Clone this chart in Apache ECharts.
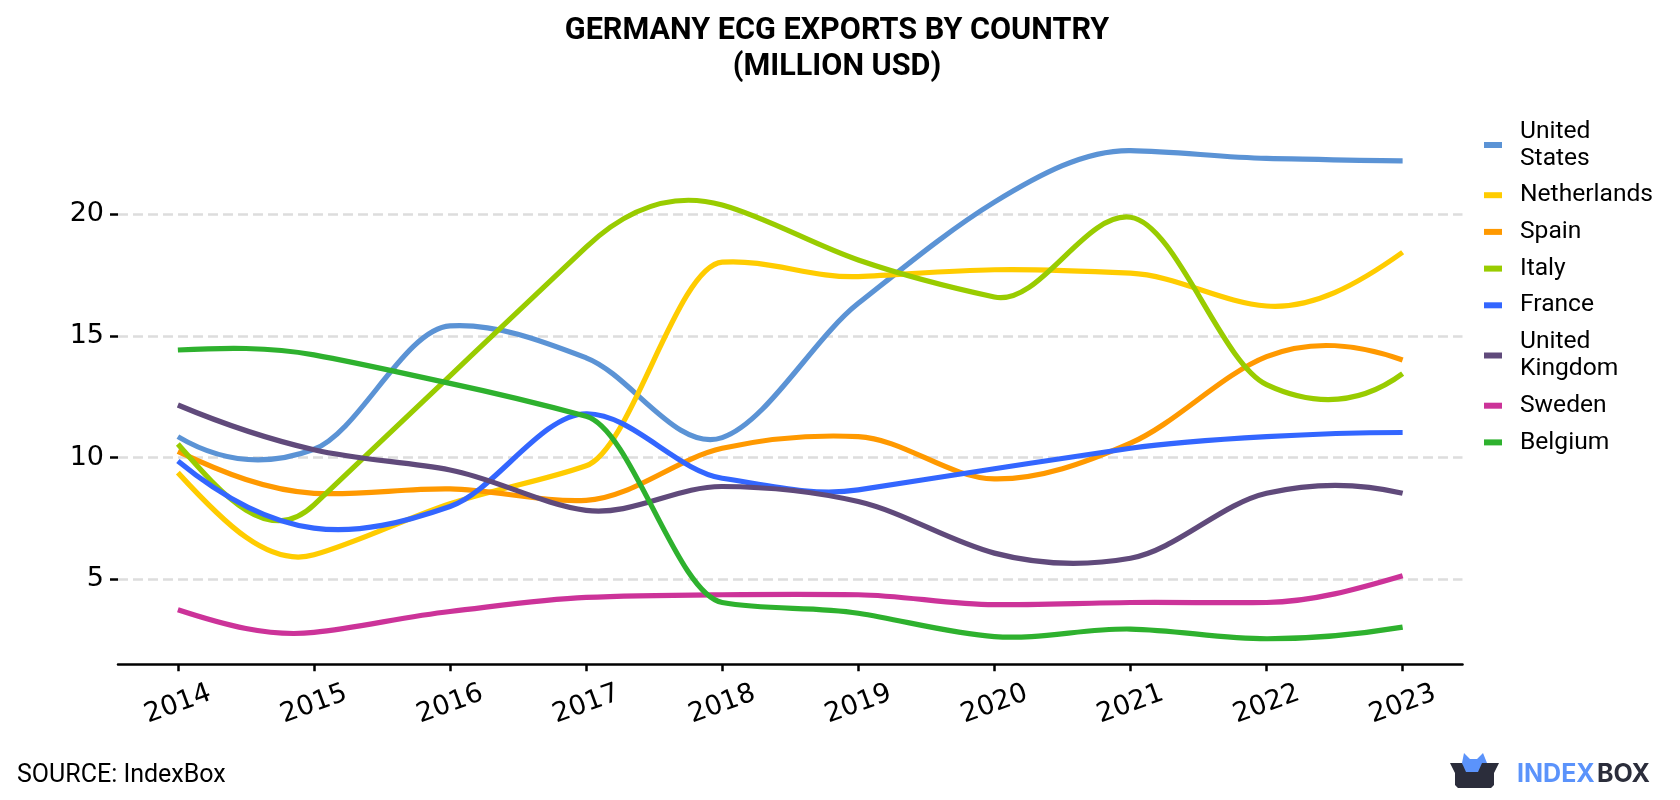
<!DOCTYPE html>
<html>
<head>
<meta charset="utf-8">
<style>html,body{margin:0;padding:0;background:#fff}#chart{width:1680px;height:800px}</style>
<script src="https://cdn.jsdelivr.net/npm/echarts@6/dist/echarts.min.js"></script>
</head>
<body>
<div id="chart"></div>
<script>
// Germany ECG exports, million USD per year.
const years = [2014, 2015, 2016, 2017, 2018, 2019, 2020, 2021, 2022, 2023];
const tickValues = [5, 10, 15, 20];

const unitedStates = [10.86, 10.34, 15.41, 14.1, 10.82, 16.34, 20.5, 22.62, 22.3, 22.2];
const netherlands = [9.38, 6.0, 8.1, 9.66, 18.03, 17.44, 17.72, 17.58, 16.23, 18.44];
const spain = [10.25, 8.53, 8.71, 8.24, 10.38, 10.86, 9.12, 10.59, 14.15, 14.01];
const italy = [10.56, 8.05, 13.36, 18.65, 20.38, 18.12, 16.6, 19.88, 13.0, 13.45];
const france = [9.86, 7.1, 7.99, 11.8, 9.15, 8.67, 9.54, 10.38, 10.86, 11.03];
const unitedKingdom = [12.16, 10.32, 9.49, 7.83, 8.81, 8.19, 6.07, 5.86, 8.53, 8.53];
const sweden = [3.74, 2.81, 3.67, 4.25, 4.36, 4.36, 3.95, 4.04, 4.04, 5.14];
const belgium = [14.42, 14.22, 13.05, 11.7, 4.04, 3.6, 2.64, 2.95, 2.55, 3.03];

const seriesTable = [
  ['United States', unitedStates, '#5b93d5'],
  ['Netherlands', netherlands, '#ffcc00'],
  ['Spain', spain, '#ff9900'],
  ['Italy', italy, '#99cc00'],
  ['France', france, '#3366ff'],
  ['United Kingdom', unitedKingdom, '#604a7b'],
  ['Sweden', sweden, '#cc3399'],
  ['Belgium', belgium, '#2eb12e']
];

const wrappedNames = { 'United States': 'United\nStates', 'United Kingdom': 'United\nKingdom' };

// Akima tangents for evenly spaced yearly values.
function akimaTangents(y) {
  const n = y.length;
  const m = new Array(n + 3);
  for (let i = 0; i < n - 1; i++) m[i + 2] = y[i + 1] - y[i];
  m[1] = 2 * m[2] - m[3];
  m[0] = 2 * m[1] - m[2];
  m[n + 1] = 2 * m[n] - m[n - 1];
  m[n + 2] = 2 * m[n + 1] - m[n];
  return y.map((_, i) => {
    const f1 = Math.abs(m[i + 3] - m[i + 2]);
    const f2 = Math.abs(m[i + 1] - m[i]);
    const sum = f1 + f2;
    return sum < 1e-9 ? (m[i + 1] + m[i + 2]) / 2 : (f1 * m[i + 1] + f2 * m[i + 2]) / sum;
  });
}

// One stroked path of cubic segments running through the yearly points.
echarts.graphic.registerShape('yearlyCurve', echarts.graphic.extendShape({
  shape: { start: null, segments: null },
  buildPath(ctx, shape) {
    ctx.moveTo(shape.start[0], shape.start[1]);
    shape.segments.forEach(s => ctx.bezierCurveTo(s[0], s[1], s[2], s[3], s[4], s[5]));
  }
}));

function curveRenderer(values, color) {
  const tangents = akimaTangents(values);
  return (params, api) => {
    if (params.dataIndex !== 0) return null;
    const segments = [];
    for (let i = 0; i < values.length - 1; i++) {
      const c1 = api.coord([years[i] + 1 / 3, values[i] + tangents[i] / 3]);
      const c2 = api.coord([years[i + 1] - 1 / 3, values[i + 1] - tangents[i + 1] / 3]);
      const end = api.coord([years[i + 1], values[i + 1]]);
      segments.push([c1[0], c1[1], c2[0], c2[1], end[0], end[1]]);
    }
    return {
      type: 'yearlyCurve',
      shape: { start: api.coord([years[0], values[0]]), segments },
      style: { fill: 'none', stroke: color, lineWidth: 5.2, lineJoin: 'round', lineCap: 'butt' }
    };
  };
}

const chart = echarts.init(document.getElementById('chart'), null, { renderer: 'canvas' });

chart.setOption({
  animation: false,
  backgroundColor: '#ffffff',
  title: {
    text: 'GERMANY ECG EXPORTS BY COUNTRY\n(MILLION USD)',
    left: 832,
    top: 8,
    textAlign: 'center',
    textStyle: { fontFamily: 'Roboto', fontWeight: 'bold', fontSize: 30.6, lineHeight: 36, color: '#000' }
  },
  grid: { left: 118, top: 117, width: 1344.5, height: 547.3 },
  xAxis: {
    type: 'value',
    min: 2013.56,
    max: 2023.44,
    axisLine: { lineStyle: { color: '#000', width: 2.5 } },
    axisTick: { length: 7, customValues: years, lineStyle: { color: '#000', width: 2.5 } },
    axisLabel: {
      customValues: years,
      rotate: 20,
      align: 'center',
      verticalAlign: 'middle',
      margin: 40,
      fontFamily: 'DejaVu Sans',
      fontSize: 27,
      color: '#000',
      formatter: v => String(v)
    },
    splitLine: { show: false }
  },
  yAxis: {
    type: 'value',
    min: 1.5,
    max: 24,
    axisLine: { show: false },
    axisTick: { show: true, length: 8, customValues: tickValues, lineStyle: { color: '#000', width: 2.5 } },
    axisLabel: {
      customValues: tickValues,
      margin: 14,
      fontFamily: 'DejaVu Sans',
      fontSize: 27,
      color: '#000'
    },
    splitLine: { show: true, lineStyle: { color: '#dddddd', width: 2.5, type: [10, 5] } }
  },
  legend: {
    orient: 'vertical',
    left: 1484,
    top: 118,
    padding: 0,
    icon: 'rect',
    itemWidth: 18,
    itemHeight: 6,
    itemGap: 9.7,
    formatter: name => wrappedNames[name] || name,
    textStyle: { fontFamily: 'Roboto', fontSize: 24.6, lineHeight: 27, color: '#000', padding: [0, 0, 0, 13] },
    data: seriesTable.map(s => s[0])
  },
  series: seriesTable.map(([name, values, color]) => ({
    name,
    type: 'custom',
    coordinateSystem: 'cartesian2d',
    data: values.map((v, i) => [years[i], v]),
    encode: { x: 0, y: 1 },
    itemStyle: { color },
    clip: false,
    renderItem: curveRenderer(values, color)
  })),
  graphic: [
    {
      type: 'text', left: 17, top: 763,
      style: { text: 'SOURCE: IndexBox', font: '25px Roboto', fill: '#000' }
    },
    // Logo: blue contents above a dark open box, followed by the wordmark.
    {
      type: 'polygon',
      shape: { points: [[1462, 763], [1464, 753], [1470, 759], [1477, 759], [1483, 753], [1487, 763], [1484, 772], [1464, 772]] },
      style: { fill: '#5b93fb' }
    },
    {
      type: 'polygon',
      shape: { points: [[1450, 763], [1462, 763], [1466, 772], [1478, 772], [1482, 763], [1499, 763], [1494, 773], [1494, 785], [1491, 788], [1458, 788], [1455, 785], [1455, 773]] },
      style: { fill: '#2b2d3b' }
    },
    {
      type: 'text', left: 1517, top: 762,
      style: { text: 'INDEX', font: 'bold 25px Inter', fill: '#5b93fb' }
    },
    {
      type: 'text', left: 1597, top: 762,
      style: { text: 'BOX', font: 'bold 25px Inter', fill: '#2b2d3b' }
    }
  ]
});
</script>
</body>
</html>
